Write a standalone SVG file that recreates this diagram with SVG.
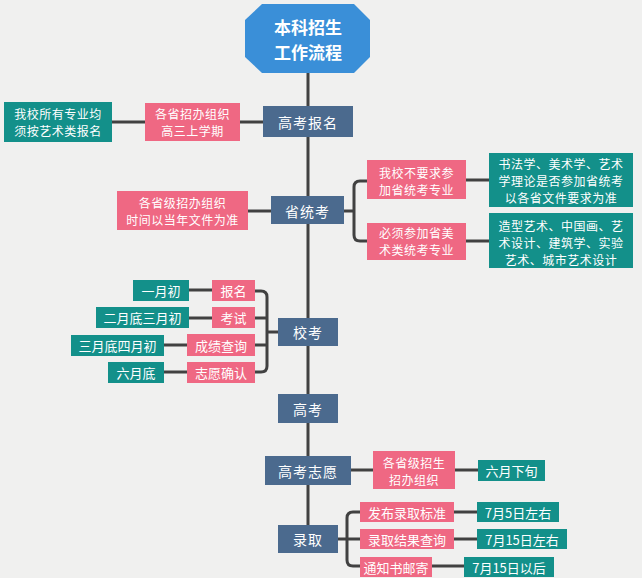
<svg xmlns="http://www.w3.org/2000/svg" width="642" height="578" viewBox="0 0 642 578">
<style>
text{font-family:"Noto Sans CJK SC","Noto Sans",sans-serif;fill:#fff;text-anchor:middle;dominant-baseline:central;font-size:13px}
text.m{font-size:12px;letter-spacing:0.5px}
text.h{font-size:17px;font-weight:bold}
.s rect{fill:#4b6a8e}
.s text{font-size:14px;letter-spacing:1px}
.p rect{fill:#ef6883}
.t rect{fill:#13908a}
.c{fill:none;stroke:#414141;stroke-width:3;stroke-linejoin:round}
</style>
<rect width="642" height="578" fill="#f0f0ef"/>
<g id="connectors" class="c">
<path d="M308 73V525"/>
<path d="M112 122H145M240 122H263"/>
<path d="M248 211H271"/>
<path d="M344 211H354"/>
<path d="M367 181H360Q354 181 354 187V235Q354 241 360 241H367"/>
<path d="M466 180H489M466 241H489"/>
<path d="M189 290H212M189 318H212M164 345H187M164 372H187"/>
<path d="M255 291H261Q267 291 267 297V366Q267 372 261 372H255M255 318H267M255 345H267M267 332H278"/>
<path d="M351 470H373M455 470H478"/>
<path d="M338 539H347"/>
<path d="M360 512H353Q347 512 347 518V560Q347 566 353 566H360M360 539H347"/>
<path d="M454 512H477M454 539H477M432 566H464"/>
</g>
<g id="title">
<polygon points="262,4 354,4 370,20 370,57 354,73 262,73 245,57 245,20" fill="#3a8fd8"/>
<text class="h" x="308" y="26.5">本科招生</text>
<text class="h" x="308" y="51.5">工作流程</text>
</g>
<g id="n-gkbm" class="s"><rect x="263" y="106" width="90" height="31"/><text x="308" y="122">高考报名</text></g>
<g id="n-szb1" class="p"><rect x="145" y="103" width="95" height="38"/><text class="m" x="192.5" y="113">各省招办组织</text><text class="m" x="192.5" y="130">高三上学期</text></g>
<g id="n-wxsy" class="t"><rect x="4" y="102" width="108" height="40"/><text class="m" x="58" y="113">我校所有专业均</text><text class="m" x="58" y="130">须按艺术类报名</text></g>
<g id="n-stk" class="s"><rect x="271" y="196" width="73" height="28"/><text x="307.5" y="211">省统考</text></g>
<g id="n-sjzb" class="p"><rect x="117" y="191" width="131" height="39"/><text class="m" x="182.5" y="202">各省级招办组织</text><text class="m" x="182.5" y="219">时间以当年文件为准</text></g>
<g id="n-bycj" class="p"><rect x="367" y="160" width="99" height="39"/><text class="m" x="416.5" y="172">我校不要求参</text><text class="m" x="416.5" y="189">加省统考专业</text></g>
<g id="n-bxcj" class="p"><rect x="367" y="223" width="99" height="37"/><text class="m" x="416.5" y="232">必须参加省美</text><text class="m" x="416.5" y="249">术类统考专业</text></g>
<g id="n-sfx" class="t"><rect x="489" y="153" width="144" height="54"/><text class="m" x="561" y="163">书法学、美术学、艺术</text><text class="m" x="561" y="180">学理论是否参加省统考</text><text class="m" x="561" y="197">以各省文件要求为准</text></g>
<g id="n-zxys" class="t"><rect x="489" y="213" width="144" height="55"/><text class="m" x="561" y="225">造型艺术、中国画、艺</text><text class="m" x="561" y="242">术设计、建筑学、实验</text><text class="m" x="561" y="259">艺术、城市艺术设计</text></g>
<g id="n-xk" class="s"><rect x="278" y="318" width="60" height="28"/><text x="308" y="332">校考</text></g>
<g id="n-bm" class="p"><rect x="212" y="280" width="43" height="21"/><text x="233.5" y="290.5">报名</text></g>
<g id="n-ks" class="p"><rect x="212" y="307" width="43" height="21"/><text x="233.5" y="317.5">考试</text></g>
<g id="n-cjcx" class="p"><rect x="187" y="334" width="68" height="22"/><text x="221" y="345">成绩查询</text></g>
<g id="n-zyqr" class="p"><rect x="187" y="362" width="68" height="21"/><text x="221" y="372.5">志愿确认</text></g>
<g id="n-yyc" class="t"><rect x="133" y="280" width="56" height="21"/><text x="161" y="290.5">一月初</text></g>
<g id="n-eyd" class="t"><rect x="96" y="307" width="93" height="21"/><text x="142.5" y="317.5">二月底三月初</text></g>
<g id="n-syd" class="t"><rect x="71" y="335" width="93" height="21"/><text x="117.5" y="345.5">三月底四月初</text></g>
<g id="n-lyd" class="t"><rect x="108" y="362" width="56" height="21"/><text x="136" y="372.5">六月底</text></g>
<g id="n-gk" class="s"><rect x="278" y="394" width="60" height="29"/><text x="308" y="409">高考</text></g>
<g id="n-gkzy" class="s"><rect x="265" y="456" width="86" height="29"/><text x="308" y="471">高考志愿</text></g>
<g id="n-sjzs" class="p"><rect x="373" y="451" width="82" height="38"/><text class="m" x="414" y="462">各省级招生</text><text class="m" x="414" y="479">招办组织</text></g>
<g id="n-lyxx" class="t"><rect x="478" y="460" width="67" height="21"/><text x="511.5" y="470.5">六月下旬</text></g>
<g id="n-lq" class="s"><rect x="278" y="525" width="60" height="28"/><text x="308" y="539">录取</text></g>
<g id="n-fb" class="p"><rect x="360" y="502" width="94" height="20"/><text x="407" y="512">发布录取标准</text></g>
<g id="n-jg" class="p"><rect x="360" y="529" width="94" height="20"/><text x="407" y="539">录取结果查询</text></g>
<g id="n-tz" class="p"><rect x="360" y="557" width="72" height="20"/><text x="396" y="567">通知书邮寄</text></g>
<g id="n-d1" class="t"><rect x="477" y="502" width="82" height="20"/><text x="518" y="512">7月5日左右</text></g>
<g id="n-d2" class="t"><rect x="477" y="529" width="90" height="20"/><text x="522" y="539">7月15日左右</text></g>
<g id="n-d3" class="t"><rect x="464" y="557" width="90" height="20"/><text x="509" y="567">7月15日以后</text></g>
</svg>
